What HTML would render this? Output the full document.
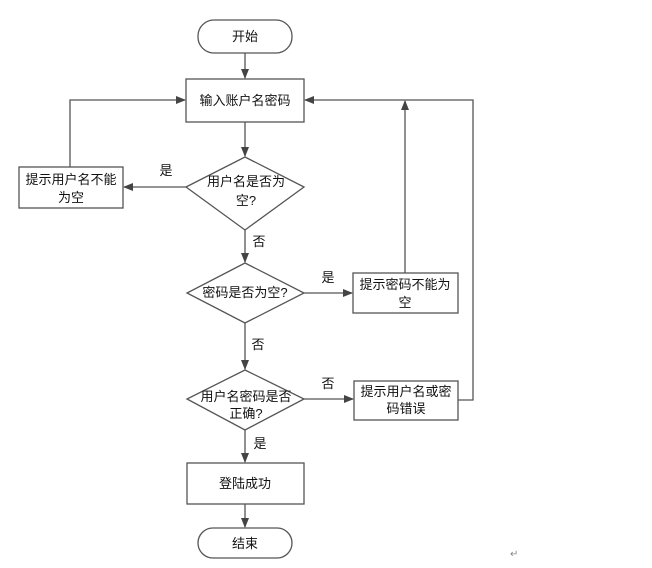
<!DOCTYPE html>
<html><head><meta charset="utf-8"><style>
html,body{margin:0;padding:0;background:#fff;width:652px;height:568px;overflow:hidden}
text{font-family:"Liberation Sans","Noto Sans CJK SC",sans-serif;font-size:13px;fill:#111}
</style></head><body>
<svg width="652" height="568" viewBox="0 0 652 568" xmlns="http://www.w3.org/2000/svg">
<defs><marker id="a" markerWidth="10" markerHeight="8" refX="9" refY="4" orient="auto" markerUnits="userSpaceOnUse"><path d="M0,0 L10,4 L0,8 Z" fill="#444"/></marker></defs>
<g stroke="#555" stroke-width="1.3" fill="#fff">
<rect x="198" y="20" width="94" height="33" rx="16"/>
<rect x="186" y="79" width="118" height="43"/>
<polygon points="245,157 304,187 245,230 186,187"/>
<rect x="19" y="167" width="104" height="41"/>
<polygon points="245,263 304,293 245,323 187,293"/>
<rect x="353" y="273" width="105" height="40"/>
<polygon points="245,370 304,399 245,430 187,399"/>
<rect x="354" y="381" width="104" height="39"/>
<rect x="187" y="463" width="117" height="41"/>
<rect x="198" y="528" width="94" height="30" rx="15"/>
</g>
<g stroke="#555" stroke-width="1.3" fill="none">
<line x1="245" y1="53" x2="245" y2="78" marker-end="url(#a)"/>
<line x1="245" y1="122" x2="245" y2="156" marker-end="url(#a)"/>
<line x1="186" y1="187" x2="124" y2="187" marker-end="url(#a)"/>
<polyline points="70,167 70,100 185,100" marker-end="url(#a)"/>
<line x1="245" y1="230" x2="245" y2="262" marker-end="url(#a)"/>
<line x1="304" y1="293" x2="352" y2="293" marker-end="url(#a)"/>
<line x1="405" y1="273" x2="405" y2="101" marker-end="url(#a)"/>
<line x1="245" y1="323" x2="245" y2="369" marker-end="url(#a)"/>
<line x1="304" y1="399" x2="353" y2="399" marker-end="url(#a)"/>
<polyline points="458,400 473,400 473,100 305,100" marker-end="url(#a)"/>
<line x1="245" y1="430" x2="245" y2="462" marker-end="url(#a)"/>
<line x1="245" y1="504" x2="245" y2="527" marker-end="url(#a)"/>
</g>
<g text-anchor="middle">
<text x="245" y="41">开始</text>
<text x="245" y="105">输入账户名密码</text>
<text x="246" y="186">用户名是否为</text>
<text x="246" y="205">空?</text>
<text x="71" y="184">提示用户名不能</text>
<text x="71" y="202">为空</text>
<text x="245" y="297">密码是否为空?</text>
<text x="405" y="289">提示密码不能为</text>
<text x="405" y="307">空</text>
<text x="246" y="401">用户名密码是否</text>
<text x="246" y="418">正确?</text>
<text x="406" y="396">提示用户名或密</text>
<text x="406" y="413">码错误</text>
<text x="245" y="488">登陆成功</text>
<text x="245" y="548">结束</text>
<text x="166" y="175">是</text>
<text x="259" y="246">否</text>
<text x="328" y="282">是</text>
<text x="258" y="349">否</text>
<text x="328" y="388">否</text>
<text x="260" y="448">是</text>
</g>
<text x="510" y="557" style="font-size:10px;fill:#888">↵</text>
</svg>
</body></html>
